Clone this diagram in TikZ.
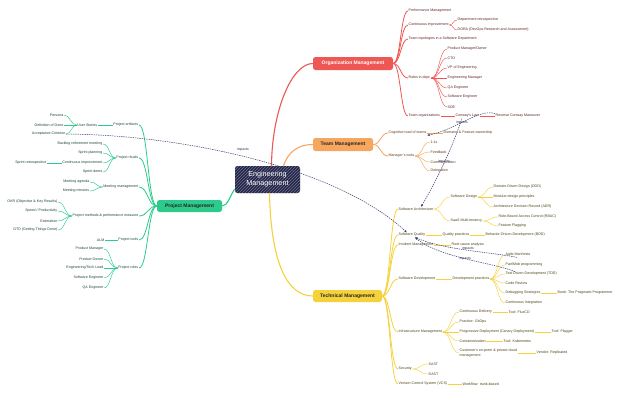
\documentclass[tikz,border=0pt]{standalone}
\usepackage{fontspec}
\setmainfont{Liberation Sans}
\usetikzlibrary{calc,patterns,arrows.meta}
\definecolor{cred}{HTML}{EE5753}
\definecolor{corg}{HTML}{F7A65E}
\definecolor{cgrn}{HTML}{2CCB8C}
\definecolor{cyel}{HTML}{F5D23C}
\definecolor{cnavy}{HTML}{23254A}
\definecolor{crel}{HTML}{3B3E6E}
\definecolor{tred}{HTML}{5E2222}
\definecolor{torg}{HTML}{5A3A1A}
\definecolor{tgrn}{HTML}{1C4434}
\definecolor{tyel}{HTML}{4D4215}
\begin{document}
\begin{tikzpicture}[x=1pt,y=-1pt,
 sc/.style={to path={.. controls ($(\tikztostart)!0.5!(\tikztotarget|-\tikztostart)$) and ($(\tikztotarget)!0.5!(\tikztostart|-\tikztotarget)$) .. (\tikztotarget)}},
 base/.style={font=\fontsize{3.6}{4.2}\selectfont, inner sep=0.5pt},
 R/.style={base, anchor=west, text=tred},
 O/.style={base, anchor=west, text=torg},
 G/.style={base, anchor=east, text=tgrn},
 Y/.style={base, anchor=west, text=tyel},
 maintopic/.style={rounded corners=2.5pt, font=\bfseries\fontsize{5}{6}\selectfont, inner sep=0pt},
 l1/.style={line width=0.8pt, sc},
 l2/.style={line width=0.45pt, sc},
 trunk/.style={line width=1.1pt},
 rel/.style={crel, line width=0.5pt, dash pattern=on 1.4pt off 0.9pt, -{Latex[length=2.6pt,width=2.2pt]}},
 lbl/.style={font=\fontsize{3.4}{4}\selectfont, text=cnavy, inner sep=0.3pt}]
\useasboundingbox (0,0) rectangle (630,402);
\fill[white] (0,0) rectangle (630,402);

% ---------- main topics ----------
\node[rounded corners=2.5pt, preaction={fill=cnavy}, pattern=north east lines, pattern color=white!35!cnavy,
  minimum width=65pt, minimum height=27pt, align=center, text=white,
  font=\fontsize{7.2}{9}\selectfont, inner sep=0pt] (root) at (267.5,179.5) {Engineering\\Management};
\node[maintopic, fill=cred, text=white, minimum width=80pt, minimum height=13pt] (org) at (353,63.5) {Organization Management};
\node[maintopic, fill=corg, text=black!85, minimum width=60pt, minimum height=13pt] (team) at (343,144.5) {Team Management};
\node[maintopic, fill=cgrn, text=black!85, minimum width=65pt, minimum height=12pt] (proj) at (189.5,206) {Project Management};
\node[maintopic, fill=cyel, text=black!85, minimum width=69pt, minimum height=12pt] (tech) at (347.5,296) {Technical Management};

\draw[cred, trunk] ([xshift=4pt]root.north) .. controls (272,110) and (292,63.5) .. (org.west);
\draw[corg, trunk] ([xshift=16pt]root.north) .. controls (288,152) and (298,144.5) .. (team.west);
\draw[cgrn, trunk] ([yshift=4pt]root.south west) .. controls (230,195) and (228,206) .. (proj.east);
\draw[cyel, trunk] ([xshift=2pt]root.south) .. controls (271,265) and (288,296) .. (tech.west);

% ---------- Organization Management ----------
\node[R] (perf) at (408,11) {Performance Management};
\node[R] (ci) at (408,25) {Continuous improvement};
\node[R] (dr) at (457,20) {Department retrospective};
\node[R] (dora) at (457,30) {DORA (DevOps Research and Assessment)};
\node[R] (tt) at (408,39) {Team topologies in a Software Department};
\node[R] (roles) at (408,78) {Roles in dept.};
\node[R] (pmo) at (447,49) {Product Manager/Owner};
\node[R] (cto) at (447,58) {CTO};
\node[R] (vp) at (447,68) {VP of Engineering};
\node[R] (em) at (447,78) {Engineering Manager};
\node[R] (qa) at (447,88) {QA Engineer};
\node[R] (se) at (447,97) {Software Engineer};
\node[R] (sde) at (447,107) {SDE};
\node[R] (torgs) at (408,116) {Team organizations};
\node[R] (cw) at (455,116) {Conway's Law};
\node[R] (rcm) at (495,116) {Reverse Conway Maneuver};
\begin{scope}[cred]
\foreach \c in {perf,ci,tt,roles,torgs} \draw[l1] (org.east) to (\c.west);
\foreach \c in {dr,dora} \draw[l2] (ci.east) to (\c.west);
\foreach \c in {pmo,cto,vp,em,qa,se,sde} \draw[l2] (roles.east) to (\c.west);
\draw[l2] (torgs.east) to (cw.west);
\draw[l2] (cw.east) to (rcm.west);
\end{scope}

% ---------- Team Management ----------
\node[O] (cl) at (388,133) {Cognitive load of teams};
\node[O] (dfo) at (443,133) {Domains \& Feature ownership};
\node[O] (mtools) at (388,156) {Manager's tools};
\node[O] (oo) at (430,142) {1:1s};
\node[O] (fb) at (430,152) {Feedback};
\node[O] (comm) at (430,162) {Communication};
\node[O] (del) at (430,171) {Delegation};
\begin{scope}[corg]
\foreach \c in {cl,mtools} \draw[l1] (team.east) to (\c.west);
\draw[l2] (cl.east) to (dfo.west);
\foreach \c in {oo,fb,comm,del} \draw[l2] (mtools.east) to (\c.west);
\end{scope}

% ---------- Project Management ----------
\node[G] (pa) at (139,125) {Project artifacts};
\node[G] (us) at (98,125) {User Stories};
\node[G] (pers) at (64,115) {Persona};
\node[G] (dod) at (64,125) {Definition of Done};
\node[G] (ac) at (66,134) {Acceptance Criterion};
\node[G] (pr) at (139,158) {Project rituals};
\node[G] (brm) at (103,144) {Backlog refinement meeting};
\node[G] (sp) at (103,153) {Sprint planning};
\node[G] (pci) at (103,163) {Continuous improvement};
\node[G] (sr) at (47,163) {Sprint retrospective};
\node[G] (sdemo) at (103,172) {Sprint demo};
\node[G] (mm) at (139,187) {Meeting management};
\node[G] (mag) at (90,182) {Meeting agenda};
\node[G] (mmin) at (90,191) {Meeting minutes};
\node[G] (pmm) at (139,216) {Project methods \& performance measure};
\node[G] (okr) at (58,202) {OKR (Objective \& Key Results)};
\node[G] (spd) at (58,211) {Speed / Productivity};
\node[G] (est) at (58,221) {Estimation};
\node[G] (gtd) at (58,230) {GTD (Getting Things Done)};
\node[G] (ptools) at (139,240) {Project tools};
\node[G] (alm) at (105,240) {ALM};
\node[G] (proles) at (139,268) {Project roles};
\node[G] (ppm) at (104,249) {Product Manager};
\node[G] (ppo) at (104,259) {Product Owner};
\node[G] (etl) at (104,268) {Engineering/Tech Lead};
\node[G] (pse) at (104,278) {Software Engineer};
\node[G] (pqa) at (104,288) {QA Engineer};
\begin{scope}[cgrn]
\foreach \c in {pa,pr,mm,pmm,ptools,proles} \draw[l1] (proj.west) to (\c.east);
\draw[l2] (pa.west) to (us.east);
\foreach \c in {pers,dod,ac} \draw[l2] (us.west) to (\c.east);
\foreach \c in {brm,sp,pci,sdemo} \draw[l2] (pr.west) to (\c.east);
\draw[l2] (pci.west) to (sr.east);
\foreach \c in {mag,mmin} \draw[l2] (mm.west) to (\c.east);
\foreach \c in {okr,spd,est,gtd} \draw[l2] (pmm.west) to (\c.east);
\draw[l2] (ptools.west) to (alm.east);
\foreach \c in {ppm,ppo,etl,pse,pqa} \draw[l2] (proles.west) to (\c.east);
\end{scope}

% ---------- Technical Management ----------
\node[Y] (sa) at (398,209) {Software Architecture};
\node[Y] (sd) at (450,197) {Software Design};
\node[Y] (ddd) at (493,187) {Domain-Driven Design (DDD)};
\node[Y] (mdp) at (493,197) {Modular design principles};
\node[Y] (adr) at (493,207) {Architecture Decision Record (ADR)};
\node[Y] (smt) at (450,221) {SaaS Multi-tenancy};
\node[Y] (rbac) at (498,217) {Role-Based Access Control (RBAC)};
\node[Y] (ff) at (498,226) {Feature Flagging};
\node[Y] (sq) at (398,235) {Software Quality};
\node[Y] (qp) at (442,235) {Quality practices};
\node[Y] (bdd) at (485,235) {Behavior-Driven Development (BDD)};
\node[Y] (im) at (398,245) {Incident Management};
\node[Y] (rca) at (451,245) {Root cause analysis};
\node[Y] (sdev) at (398,279) {Software Development};
\node[Y] (dp) at (452,279) {Development practices};
\node[Y] (agile) at (505,255) {Agile Manifesto};
\node[Y] (pair) at (505,265) {Pair/Mob programming};
\node[Y] (tdd) at (505,274) {Test Driven Development (TDD)};
\node[Y] (cr) at (505,283) {Code Review};
\node[Y] (dbg) at (505,293) {Debugging Strategies};
\node[Y] (book) at (557,293) {Book: The Pragmatic Programmer};
\node[Y] (cint) at (505,303) {Continuous Integration};
\node[Y] (infra) at (398,332) {Infrastructure Management};
\node[Y] (cdel) at (459,312) {Continuous Delivery};
\node[Y] (flux) at (508,312) {Tool: FluxCD};
\node[Y] (gitops) at (459,322) {Practice: GitOps};
\node[Y] (pdep) at (459,332) {Progressive Deployment (Canary Deployment)};
\node[Y] (flag) at (551,332) {Tool: Flagger};
\node[Y] (cont) at (459,341) {Containerization};
\node[Y] (k8s) at (503,341) {Tool: Kubernetes};
\node[Y, align=left] (cust) at (459,353) {Customer's on-prem \& private cloud\\management};
\node[Y] (repl) at (536,353) {Vendor: Replicated};
\node[Y] (sec) at (398,369) {Security};
\node[Y] (sast) at (428,364) {SAST};
\node[Y] (dast) at (428,374) {DAST};
\node[Y] (vcs) at (398,384) {Version Control System (VCS)};
\node[Y] (wf) at (462,384) {Workflow: trunk-based};
\begin{scope}[cyel]
\foreach \c in {sa,sq,im,sdev,infra,sec,vcs} \draw[l1] (tech.east) to (\c.west);
\foreach \c in {sd,smt} \draw[l2] (sa.east) to (\c.west);
\foreach \c in {ddd,mdp,adr} \draw[l2] (sd.east) to (\c.west);
\foreach \c in {rbac,ff} \draw[l2] (smt.east) to (\c.west);
\draw[l2] (sq.east) to (qp.west);
\draw[l2] (qp.east) to (bdd.west);
\draw[l2] (im.east) to (rca.west);
\draw[l2] (sdev.east) to (dp.west);
\foreach \c in {agile,pair,tdd,cr,dbg,cint} \draw[l2] (dp.east) to (\c.west);
\draw[l2] (dbg.east) to (book.west);
\foreach \c in {cdel,gitops,pdep,cont,cust} \draw[l2] (infra.east) to (\c.west);
\draw[l2] (cdel.east) to (flux.west);
\draw[l2] (pdep.east) to (flag.west);
\draw[l2] (cont.east) to (k8s.west);
\draw[l2] (cust.east) to (repl.west);
\foreach \c in {sast,dast} \draw[l2] (sec.east) to (\c.west);
\draw[l2] (vcs.east) to (wf.west);
\end{scope}

% ---------- relationships ----------
\draw[rel] (ac.east) .. controls (190,135) and (340,170) .. ([xshift=-5pt]sq.north);
\node[lbl] (imp1) at (243,150) {impacts};
\draw[rel] (rcm.north west) .. controls (480,108) and (455,130) .. (cl.south east);
\node[lbl] (imp2) at (462,123) {impacts};
\draw[rel] ([xshift=7pt]cw.south west) .. controls (455,140) and (440,175) .. ([xshift=5pt]sa.north);
\node[lbl] (imp3) at (444,162) {impacts};
\draw[rel] ([xshift=12pt]agile.south west) .. controls (490,252) and (445,250) .. ([xshift=3pt]sq.south);
\node[lbl] (imp4) at (468,249) {impacts};
\draw[rel] ([xshift=10pt]tdd.north west) .. controls (495,263) and (440,258) .. ([xshift=3pt]sq.south);
\node[lbl] (imp5) at (465,259) {impacts};
\end{tikzpicture}
\end{document}
